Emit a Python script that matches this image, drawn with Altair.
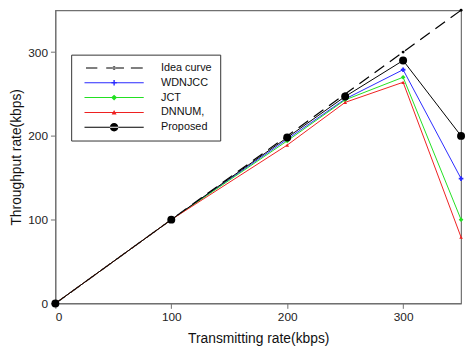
import altair as alt
import pandas as pd

# ---- data ----
x_vals = [0, 100, 200, 250, 300, 350]
ideal = [0, 100, 200, 250, 300, 350]
wdnjcc = [0, 100, 196, 244, 279, 149]
jct = [0, 100, 194, 243, 270, 100]
dnnum = [0, 100, 189, 240, 264, 79]
proposed = [0, 100, 198, 247, 290, 200]

series_names = ["Idea curve", "WDNJCC", "JCT", "DNNUM,", "Proposed"]
series_values = [ideal, wdnjcc, jct, dnnum, proposed]
colors = ["#000000", "#2a2aff", "#22e022", "#ee2020", "#000000"]
axis_ticks = [0, 100, 200, 300]

rows = []
for name, vals in zip(series_names, series_values):
    for xv, yv in zip(x_vals, vals):
        rows.append({"series": name, "x": xv, "y": yv})
df = pd.DataFrame(rows)


# ---- legend symbols: line + marker drawn as custom paths (unit = 5px) ----
def circle(c, r):
    return f"M{c-r},0A{r},{r} 0 1,0 {c+r},0A{r},{r} 0 1,0 {c-r},0Z"


def hline(a, b, t=0.1):
    return f"M{a},{-t}H{b}V{t}H{a}Z"


C = 6
legend_paths = [
    hline(0.3, 2.6) + hline(4.4, 8.0) + hline(9.4, 11.8) + circle(C, 0.35),
    hline(0, 12) + f"M{C-0.55},-0.14H{C+0.55}V0.14H{C-0.55}Z" + f"M{C-0.14},-0.55H{C+0.14}V0.55H{C-0.14}Z",
    hline(0, 12) + f"M{C},-0.6L{C+0.6},0L{C},0.6L{C-0.6},0Z",
    hline(0, 12) + f"M{C},-0.5L{C+0.5},0.4L{C-0.5},0.4Z",
    hline(0, 12) + circle(C, 0.85),
]

W, H = 411, 297
xscale = alt.Scale(domain=[0, 350], nice=False)
yscale = alt.Scale(domain=[0, 350], nice=False)
color_scale = alt.Scale(domain=series_names, range=colors)

X = alt.X("x:Q", scale=xscale, title="Transmitting rate(kbps)",
          axis=alt.Axis(values=axis_ticks, grid=False))
Y = alt.Y("y:Q", scale=yscale, title="Throughput rate(kbps)",
          axis=alt.Axis(values=axis_ticks, grid=False))

base = alt.Chart(df)

line_layers = []
for name, col in zip(series_names, colors):
    if name == "Idea curve":
        mk = base.mark_line(color=col, strokeWidth=1.2, strokeDash=[12, 7])
    else:
        mk = base.mark_line(color=col, strokeWidth=1)
    line_layers.append(
        mk.transform_filter(alt.datum.series == name).encode(x=X, y=Y, order=alt.Order("x:Q"))
    )

marker_specs = [
    ("Idea curve", "circle", 9, "black"),
    ("WDNJCC", "cross", 22, colors[1]),
    ("JCT", "diamond", 22, colors[2]),
    ("DNNUM,", "triangle-up", 14, colors[3]),
    ("Proposed", "circle", 65, "black"),
]
marker_layers = []
for name, shp, sz, col in marker_specs:
    marker_layers.append(
        base.transform_filter(alt.datum.series == name).mark_point(
            shape=shp, size=sz, filled=True, opacity=1, color=col, strokeWidth=0
        ).encode(x=X, y=Y)
    )

legend_layer = base.transform_filter("false").mark_point(
    filled=True, opacity=1, strokeWidth=0
).encode(
    x=X, y=Y,
    color=alt.Color("series:N", scale=color_scale, title=None),
    shape=alt.Shape("series:N", scale=alt.Scale(domain=series_names, range=legend_paths), title=None),
)

chart = alt.layer(
    *line_layers, *marker_layers, legend_layer
).properties(
    width=W, height=H,
    autosize=alt.AutoSizeParams(type="none"),
    padding={"left": 48, "top": 0, "right": 5, "bottom": 50},
).configure_view(
    stroke="#707070", strokeWidth=1.2
).configure_axis(
    labelFont="Liberation Sans", titleFont="Liberation Sans",
    labelFontSize=12, titleFontSize=14, titleFontWeight="normal",
    labelColor="#222", titleColor="#111",
    domainColor="#707070", tickColor="#707070", tickSize=5,
    labelPadding=3,
).configure_axisX(
    titlePadding=10
).configure_axisY(
    titlePadding=4
).configure_legend(
    orient="none", legendX=16, legendY=45,
    padding=8, strokeColor="#333", fillColor="white", cornerRadius=0,
    labelFont="Liberation Sans", labelFontSize=11, labelColor="#111",
    symbolSize=100, symbolStrokeWidth=0, labelOffset=72, rowPadding=3,
)

chart.save("out.html", embed_options={"renderer": "svg", "actions": False})
